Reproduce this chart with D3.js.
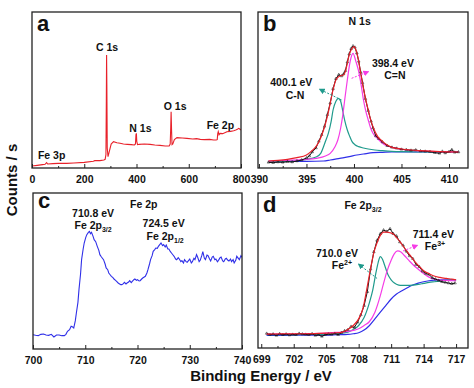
<!DOCTYPE html>
<html lang="en">
  <head>
    <meta charset="UTF-8" />
    <script src="https://cdn.jsdelivr.net/npm/d3@7"></script>
    <style>
      body { margin: 0; background: #fff; }
      svg text { font-family: "Liberation Sans", Arial, sans-serif; font-weight: bold; }
    </style>
  </head>
  <body>
    <svg id="chart" width="474" height="388"></svg>
    <script>
      // ---- data (energy in eV, intensity in arbitrary counts) ----
      // a: survey
      var surveyData = [[0,6],[20,8],[40,10],[50,11],[56,16],[60,12],[80,13],[100,14],[133,14],[160,15],[200,17],[235,20],[240,22],[260,22],[275,24],[280,26],[283,40],[284.5,200],[285.5,339],[286.5,250],[288,60],[291,34],[296,50],[303,72],[312,79],[325,76],[337,74],[350,72],[365,71],[380,70],[392,69],[396,72],[398,100],[399.5,104],[401,80],[404,70],[410,71],[430,72],[452,71],[470,69],[490,68],[510,66],[525,66],[529,72],[531,120],[532.5,169],[534,120],[536,70],[539,72],[545,85],[555,91],[575,90],[593,89],[615,87],[630,88],[644,86],[660,85],[680,86],[695,84],[705,84],[709,85],[711,103],[713,109],[716,100],[720,104],[730,103],[746,109],[760,110],[772,112],[780,114],[786,116],[791,119],[795,117],[800,114]];

      // b: N 1s
      var n1sRaw = [[391,17],[391.5,16],[392,18],[392.5,17],[393,19],[393.5,18],[394,21],[394.5,24],[395,30],[395.3,36],[395.6,48],[396,60],[396.3,80],[396.6,100],[396.9,125],[397.2,160],[397.5,195],[397.8,238],[398.1,268],[398.4,280],[398.7,276],[398.9,282],[399.1,292],[399.3,318],[399.5,342],[399.7,358],[399.9,366],[400.1,362],[400.3,345],[400.5,320],[400.7,288],[400.9,256],[401.2,208],[401.5,172],[401.8,140],[402,120],[402.3,96],[402.6,88],[403,78],[403.5,67],[404,62],[404.5,59],[405,56],[405.5,55],[406,53],[406.5,54],[407,51],[407.5,50],[408,49],[408.5,46],[409,44],[409.3,50],[409.6,45],[410,49],[410.3,55],[410.6,47],[411,48]];
      var n1sFit = [[391,21],[392,23],[393,26],[394,31],[395,39],[395.5,50],[396,64],[396.4,84],[396.8,114],[397.2,155],[397.5,194],[397.8,235],[398.1,264],[398.5,276],[398.9,279],[399.1,290],[399.3,314],[399.5,340],[399.7,354],[400,364],[400.2,355],[400.4,334],[400.65,294],[400.9,254],[401.2,210],[401.5,174],[401.75,145],[402,124],[402.5,94],[403,80],[403.5,69],[404,62],[405,57],[406,54],[407,52],[409,49],[411,48]];
      var n1sCN = [[391,19],[393,20],[395,26],[396,33],[396.5,44],[397,80],[397.3,104],[397.6,140],[397.8,174],[398.1,200],[398.35,209],[398.6,200],[398.8,174],[399.05,140],[399.3,114],[399.55,95],[399.8,79],[400.1,70],[400.5,64],[401,60],[401.5,57],[402.2,54],[403,52],[404,50],[405,49],[408,48],[411,48]];
      var n1sCdN = [[391,21],[393,23],[395,26],[396,29],[397,36],[397.5,44],[398,64],[398.3,84],[398.6,120],[398.8,154],[399.05,210],[399.3,264],[399.6,320],[399.9,344],[400.2,320],[400.5,289],[400.75,250],[401,204],[401.25,170],[401.5,144],[401.75,120],[402,104],[402.5,88],[403,74],[403.5,66],[404,62],[405.5,54],[408,50],[411,48]];
      var n1sBg = [[391,19],[393,20],[395,20],[396.8,21],[397.5,24],[398.5,29],[399.5,34],[400.3,39],[401,42],[402,46],[403,47],[404,48],[405.5,48],[408,48],[411,48]];

      // c: Fe 2p
      var fe2pData = [[700,43],[700.5,41],[701,40],[701.5,44],[702,45],[702.5,42],[703,41],[703.5,44],[704,36],[704.5,42],[705,42],[705.5,40],[706,40],[706.3,44],[706.6,53],[707,58],[707.3,68],[707.6,66],[707.8,63],[708.1,85],[708.3,108],[708.6,140],[708.8,178],[709.1,225],[709.3,268],[709.6,300],[709.8,318],[710.1,335],[710.3,343],[710.6,350],[710.8,353],[711,346],[711.2,350],[711.5,338],[711.7,328],[712,322],[712.3,308],[712.6,296],[712.8,283],[713.1,276],[713.5,268],[713.8,255],[714,243],[714.3,238],[714.5,228],[714.8,222],[715,218],[715.3,214],[715.5,210],[715.8,206],[716,203],[716.3,198],[716.5,196],[716.8,193],[717,193],[717.3,196],[717.5,200],[717.8,195],[718,198],[718.3,201],[718.5,205],[718.8,199],[719,203],[719.3,208],[719.5,210],[719.8,206],[720,208],[720.3,204],[720.5,205],[720.8,210],[721,213],[721.3,216],[721.5,218],[721.8,228],[722,238],[722.3,255],[722.5,268],[722.8,280],[723,293],[723.3,298],[723.5,303],[723.8,302],[724,308],[724.3,314],[724.5,318],[724.8,310],[725,313],[725.3,306],[725.5,312],[725.8,300],[726,300],[726.3,292],[726.5,288],[726.8,282],[727,278],[727.3,270],[727.5,268],[727.8,274],[728,270],[728.3,262],[728.5,265],[728.8,258],[729,268],[729.3,262],[729.5,260],[729.8,266],[730,270],[730.3,258],[730.5,262],[730.8,272],[731,268],[731.3,283],[731.5,276],[731.8,262],[732,266],[732.3,280],[732.5,292],[732.8,272],[733,268],[733.3,282],[733.5,280],[733.8,270],[734,264],[734.3,276],[734.5,278],[734.8,268],[735,270],[735.3,262],[735.5,266],[735.8,274],[736,276],[736.3,264],[736.5,262],[736.8,270],[737,272],[737.3,266],[737.5,264],[737.8,270],[738,262],[738.3,268],[738.5,258],[738.8,266],[739,278],[739.3,272],[739.5,268],[739.8,280],[740,275]];

      // d: Fe 2p3/2
      var fe23Raw = [[699.5,44],[699.8,40],[700.1,42],[700.4,38],[700.7,43],[701,40],[701.3,42],[701.6,39],[701.9,41],[702.2,40],[702.5,44],[702.8,42],[703.1,41],[703.4,40],[703.7,43],[704,38],[704.3,40],[704.6,35],[704.9,40],[705.2,42],[705.5,41],[705.8,44],[706.1,40],[706.4,46],[706.7,52],[707,55],[707.3,65],[707.6,62],[707.9,78],[708.2,100],[708.5,128],[708.8,170],[709.1,238],[709.4,290],[709.7,325],[710,345],[710.3,356],[710.6,352],[710.9,360],[711.2,345],[711.5,338],[711.8,320],[712.1,310],[712.4,292],[712.7,278],[713,270],[713.3,252],[713.6,245],[713.9,232],[714.2,225],[714.5,222],[714.8,212],[715.1,208],[715.4,204],[715.7,200],[716,198],[716.3,196],[716.6,194],[716.9,196]];
      var fe23Fit = [[699.5,42],[701,43],[703,43],[705,45],[706,46],[706.5,48],[707,56],[707.5,68],[708,88],[708.4,120],[708.75,178],[709.1,240],[709.4,288],[709.7,318],[710,340],[710.3,350],[710.6,350],[710.9,348],[711.2,344],[711.5,333],[711.8,322],[712.1,308],[712.5,290],[712.8,278],[713.1,265],[713.4,253],[713.7,243],[714,233],[714.4,226],[714.9,218],[715.5,213],[716.1,210],[716.6,208],[717,206]];
      var fe23Fe2 = [[699.5,40],[701,40],[703,41],[705,42],[706,44],[707,48],[707.5,56],[708,68],[708.5,92],[709,138],[709.3,175],[709.6,228],[709.8,258],[710,276],[710.2,268],[710.4,250],[710.7,222],[711,206],[711.3,196],[711.7,190],[712,189],[712.5,189],[713,190],[713.5,192],[714,195],[714.5,198],[715,200],[715.5,202],[716,204],[716.5,205],[717,205]];
      var fe23Fe3 = [[699.5,42],[701,42],[703,43],[705,45],[706,47],[707,50],[707.5,53],[708,58],[708.5,68],[709,80],[709.5,108],[710,158],[710.3,195],[710.6,230],[711,265],[711.3,285],[711.6,293],[711.9,290],[712.2,280],[712.6,266],[713,252],[713.5,238],[714,225],[714.5,214],[715,208],[715.5,205],[716,204],[717,203]];
      var fe23Bg = [[699.5,38],[701,38],[703,39],[705,39],[706,40],[707,41],[707.5,43],[708,46],[708.5,54],[709,68],[709.5,88],[710,108],[710.5,128],[711,148],[711.5,163],[712,173],[712.5,182],[713,190],[713.5,196],[714,200],[714.5,203],[715,205],[715.5,206],[716,206],[716.5,206],[717,205]];

      // tick values per panel
      var ticksA = [0, 200, 400, 600, 800];
      var ticksB = [390, 395, 400, 405, 410];
      var ticksC = [700, 710, 720, 730, 740];
      var ticksD = [699, 702, 705, 708, 711, 714, 717];

      var RED = "#e8212a", BLUE = "#2f2fe8", TEAL = "#1f9a8c", PINK = "#f53ce6";

      var svg = d3.select("#chart");

      var defs = svg.append("defs");
      [["teal", TEAL], ["pink", PINK]].forEach(function (m) {
        defs.append("marker")
          .attr("id", "arr-" + m[0])
          .attr("viewBox", "0 0 10 10")
          .attr("refX", 8).attr("refY", 5)
          .attr("markerWidth", 6).attr("markerHeight", 6)
          .attr("orient", "auto")
          .append("path")
          .attr("d", "M0,0 L10,5 L0,10 z")
          .attr("fill", m[1]);
      });

      function panel(opt) {
        var x = d3.scaleLinear().domain(opt.xDomain).range([opt.left, opt.right]);
        var y = d3.scaleLinear().domain([0, 468]).range([opt.bottom, opt.top]);
        var g = svg.append("g");

        var clipId = "clip-" + opt.letter;
        defs.append("clipPath").attr("id", clipId)
          .append("rect")
          .attr("x", opt.left).attr("y", opt.top)
          .attr("width", opt.right - opt.left).attr("height", opt.bottom - opt.top);

        var plot = g.append("g").attr("clip-path", "url(#" + clipId + ")");

        opt.series.forEach(function (s) {
          var line = d3.line()
            .x(function (d) { return x(d[0]); })
            .y(function (d) { return y(d[1]); })
            .curve(s.smooth ? d3.curveMonotoneX : d3.curveLinear);
          plot.append("path")
            .datum(s.data)
            .attr("fill", "none")
            .attr("stroke", s.color)
            .attr("stroke-width", s.width || 1.2)
            .attr("d", line);
          if (s.markers) {
            plot.selectAll(null)
              .data(s.data)
              .enter()
              .append("path")
              .attr("d", d3.symbol().type(d3.symbolTriangle).size(3))
              .attr("transform", function (d) { return "translate(" + x(d[0]) + "," + y(d[1]) + ")"; })
              .attr("fill", "none")
              .attr("stroke", s.color)
              .attr("stroke-width", 0.5);
          }
        });

        // frame
        g.append("rect")
          .attr("x", opt.left).attr("y", opt.top)
          .attr("width", opt.right - opt.left).attr("height", opt.bottom - opt.top)
          .attr("fill", "none").attr("stroke", "#222").attr("stroke-width", 1.3);

        // bottom axis, ticks inward
        var minor = [];
        for (var i = 0; i < opt.ticks.length - 1; i++) {
          minor.push((opt.ticks[i] + opt.ticks[i + 1]) / 2);
        }
        var axis = g.append("g")
          .attr("transform", "translate(0," + opt.bottom + ")")
          .call(d3.axisBottom(x).tickValues(opt.ticks).tickSize(-4).tickPadding(8).tickFormat(d3.format("d")));
        axis.select(".domain").remove();
        axis.selectAll("line").attr("stroke", "#222");
        axis.selectAll("text").attr("font-size", "10.5px").attr("fill", "#111");
        g.append("g")
          .attr("transform", "translate(0," + opt.bottom + ")")
          .call(d3.axisBottom(x).tickValues(minor).tickSize(-2).tickFormat(""))
          .call(function (a) { a.select(".domain").remove(); a.selectAll("line").attr("stroke", "#222"); });

        // panel letter
        g.append("text")
          .attr("x", opt.left + 5).attr("y", opt.top + opt.letterDy)
          .attr("font-size", "22px").attr("fill", "#111")
          .text(opt.letter);

        // labels
        opt.labels.forEach(function (l) {
          var t = g.append("text")
            .attr("x", x(l.e)).attr("y", y(l.v))
            .attr("text-anchor", "middle")
            .attr("font-size", (l.size || 10.5) + "px")
            .attr("fill", "#111");
          t.append("tspan").text(l.text);
          if (l.sub) {
            t.append("tspan").attr("font-size", "7px").attr("dy", 3).text(l.sub);
          }
          if (l.sup) {
            t.append("tspan").attr("font-size", "7px").attr("dy", -4).text(l.sup);
          }
        });

        (opt.arrows || []).forEach(function (a) {
          g.append("line")
            .attr("x1", x(a.from[0])).attr("y1", y(a.from[1]))
            .attr("x2", x(a.to[0])).attr("y2", y(a.to[1]))
            .attr("stroke", a.color).attr("stroke-width", 1)
            .attr("stroke-dasharray", "2,1.5")
            .attr("marker-end", "url(#arr-" + a.name + ")");
        });
      }

      panel({
        letter: "a", letterDy: 19, xDomain: [0, 800], ticks: ticksA,
        left: 32, right: 241, top: 12, bottom: 168,
        series: [{ data: surveyData, color: RED, width: 1.1 }],
        labels: [
          { e: 287, v: 351, text: "C 1s" },
          { e: 415, v: 109, text: "N 1s" },
          { e: 548, v: 174, text: "O 1s" },
          { e: 721, v: 117, text: "Fe 2p" },
          { e: 75, v: 26, text: "Fe 3p" }
        ]
      });

      panel({
        letter: "b", letterDy: 19, xDomain: [389.9, 412], ticks: ticksB,
        left: 258, right: 468, top: 12, bottom: 168,
        series: [
          { data: n1sBg, color: BLUE, smooth: true },
          { data: n1sCN, color: TEAL, smooth: true },
          { data: n1sCdN, color: PINK, smooth: true },
          { data: n1sRaw, color: "#111", width: 1, markers: true },
          { data: n1sFit, color: RED, smooth: true }
        ],
        labels: [
          { e: 400.6, v: 428, text: "N 1s" },
          { e: 393.4, v: 247, text: "400.1 eV" },
          { e: 393.8, v: 207, text: "C-N" },
          { e: 404.1, v: 304, text: "398.4 eV" },
          { e: 404.3, v: 266, text: "C=N" }
        ],
        arrows: [
          { from: [398.7, 204], to: [396.4, 236], color: TEAL, name: "teal" },
          { from: [399.75, 269], to: [401.5, 289], color: PINK, name: "pink" }
        ]
      });

      panel({
        letter: "c", letterDy: 15, xDomain: [700, 740], ticks: ticksC,
        left: 33, right: 242, top: 193, bottom: 349,
        series: [{ data: fe2pData, color: BLUE, width: 1.1 }],
        labels: [
          { e: 721.2, v: 424, text: "Fe 2p" },
          { e: 711.5, v: 396, text: "710.8 eV" },
          { e: 711.5, v: 361, text: "Fe 2p", sub: "3/2" },
          { e: 725, v: 366, text: "724.5 eV" },
          { e: 725.3, v: 328, text: "Fe 2p", sub: "1/2" }
        ]
      });

      panel({
        letter: "d", letterDy: 19, xDomain: [698.7, 718.1], ticks: ticksD,
        left: 258, right: 468, top: 193, bottom: 348,
        series: [
          { data: fe23Bg, color: BLUE, smooth: true },
          { data: fe23Fe2, color: TEAL, smooth: true },
          { data: fe23Fe3, color: PINK, smooth: true },
          { data: fe23Raw, color: "#111", width: 1, markers: true },
          { data: fe23Fit, color: RED, smooth: true }
        ],
        labels: [
          { e: 708.4, v: 421, text: "Fe 2p", sub: "3/2" },
          { e: 706, v: 274, text: "710.0 eV" },
          { e: 706.45, v: 238, text: "Fe", sup: "2+" },
          { e: 714.9, v: 331, text: "711.4 eV" },
          { e: 715.05, v: 296, text: "Fe", sup: "3+" }
        ],
        arrows: [
          { from: [709.7, 210], to: [708.0, 253], color: TEAL, name: "teal" },
          { from: [712.1, 293], to: [713.4, 310], color: PINK, name: "pink" }
        ]
      });

      // shared axis titles
      svg.append("text")
        .attr("transform", "translate(17,180) rotate(-90)")
        .attr("text-anchor", "middle")
        .attr("font-size", "15px").attr("fill", "#111")
        .text("Counts / s");

      svg.append("text")
        .attr("x", 261).attr("y", 381)
        .attr("text-anchor", "middle")
        .attr("font-size", "15px").attr("fill", "#111")
        .text("Binding Energy / eV");
    </script>
  </body>
</html>
